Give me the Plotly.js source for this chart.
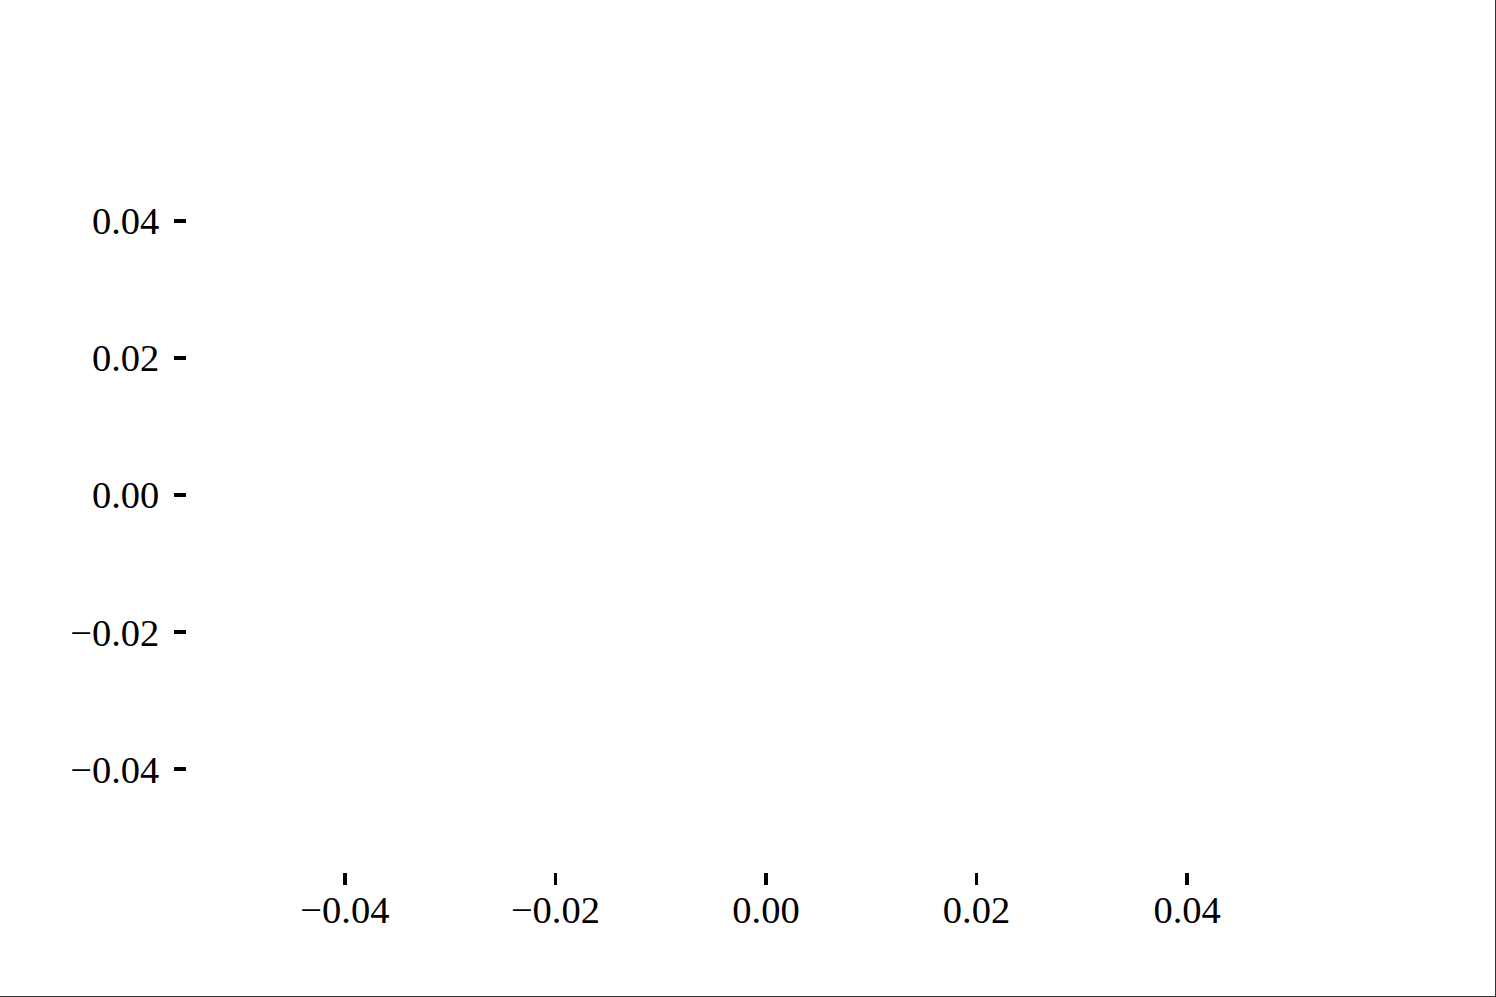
<!DOCTYPE html>
<html>
<head>
<meta charset="utf-8">
<script src="https://cdn.plot.ly/plotly-3.0.1.min.js"></script>
<style>
  html, body { margin: 0; padding: 0; background: #fff; }
  #chart { width: 1495px; height: 996px; border-right: 1px solid #333; border-bottom: 1px solid #333; }
</style>
</head>
<body>
<div id="chart"></div>
<script>
// Empty chart: no data points, only axes
const xValues = [];
const yValues = [];
const xTickVals = [-0.04, -0.02, 0.00, 0.02, 0.04];
const xTickText = ["\u22120.04", "\u22120.02", "0.00", "0.02", "0.04"];
const yTickVals = [-0.04, -0.02, 0.00, 0.02, 0.04];
const yTickText = ["\u22120.04", "\u22120.02", "0.00", "0.02", "0.04"];
const xRange = [-0.055, 0.055];
const yRange = [-0.055, 0.055];

const font = { family: "Liberation Serif, Times New Roman, serif", size: 38.5, color: "#000" };

const axisCommon = {
  showgrid: false,
  zeroline: false,
  showline: false,
  ticks: "outside",
  ticklen: 12,
  tickwidth: 3.5,
  tickcolor: "#000",
  tickfont: font,
  tickmode: "array",
  fixedrange: true
};

const data = [{
  type: "scatter",
  mode: "markers",
  x: xValues,
  y: yValues,
  showlegend: false,
  hoverinfo: "skip"
}];

const layout = {
  width: 1495,
  height: 996,
  margin: { l: 187, r: 150, t: 118, b: 124, pad: 0 },
  paper_bgcolor: "#fff",
  plot_bgcolor: "#fff",
  font: font,
  showlegend: false,
  xaxis: Object.assign({}, axisCommon, { range: xRange, tickvals: xTickVals, ticktext: xTickText, ticklabelstandoff: -8 }),
  yaxis: Object.assign({}, axisCommon, { range: yRange, tickvals: yTickVals, ticktext: yTickText, ticklabelstandoff: 7 })
};

Plotly.newPlot("chart", data, layout, { displayModeBar: false, staticPlot: true });
</script>
</body>
</html>
